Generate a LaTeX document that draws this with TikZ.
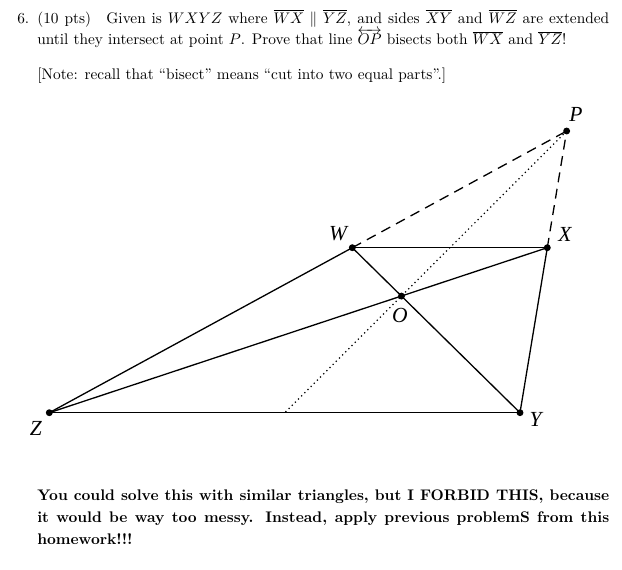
\documentclass[tikz,border=0pt]{standalone}
\usepackage{amsmath}
\usepackage{fontspec}
\newfontfamily\lblfont{Liberation Serif}
\begin{document}
\begin{tikzpicture}[x=0.6513pt,y=-0.6513pt,
  seg/.style={line width=0.85pt},
  ext/.style={line width=0.85pt, dash pattern=on 6.5pt off 4.3pt},
  midline/.style={line width=0.8pt, dash pattern=on 0.8pt off 2.1pt},
  dotpt/.style={circle, fill, inner sep=0pt, minimum size=4.5pt},
  lbl/.style={font=\lblfont\itshape\fontsize{14}{16}\selectfont, inner sep=0pt},
  txt/.style={anchor=base west, inner sep=0pt}]
\useasboundingbox (0,0) rectangle (622,569);
% geometry
\coordinate (Z) at (49.3,412.7);
\coordinate (Y) at (520,412.7);
\coordinate (W) at (352.3,247.7);
\coordinate (X) at (547.3,247.7);
\coordinate (P) at (intersection of Z--W and Y--X);
\coordinate (O) at (intersection of W--Y and Z--X);
\coordinate (M) at (intersection of P--O and Z--Y);
% segments
\draw[seg] (W) -- (X);
\draw[seg] (Z) -- (Y);
\draw[seg] (Z) -- (W);
\draw[seg] (Z) -- (X);
\draw[seg] (W) -- (Y);
\draw[seg] (X) -- (Y);
\draw[ext] (W) -- (P);
\draw[ext] (X) -- (P);
\draw[midline] (P) -- (M);
% points
\node[dotpt] (dP) at (P) {};
\node[dotpt] (dW) at (W) {};
\node[dotpt] (dX) at (X) {};
\node[dotpt] (dO) at (O) {};
\node[dotpt] (dY) at (Y) {};
\node[dotpt] (dZ) at (Z) {};
% labels
\node[lbl] (lP) at (576,114) {P};
\node[lbl] (lW) at (338,234) {W};
\node[lbl] (lX) at (565,234) {X};
\node[lbl] (lO) at (400,315) {O};
\node[lbl] (lY) at (535.5,419.7) {Y};
\node[lbl] (lZ) at (35.8,428.7) {Z};
% text
\node[txt] (num) at (17,23.3) {\fontsize{10}{12}\selectfont 6.};
\node[txt] (prob) at (37,23.3) {\parbox[t]{372.5pt}{\fontsize{10}{14.1}\selectfont (10 pts)\quad Given is $WXYZ$ where $\overline{WX}\parallel\overline{YZ}$, and sides $\overline{XY}$ and $\overline{WZ}$ are extended\linebreak until they intersect at point $P$. Prove that line $\overleftrightarrow{OP}$ bisects both $\overline{WX}$ and $\overline{YZ}$!}};
\node[txt] (note) at (37,79) {\fontsize{10}{12}\selectfont [Note: recall that ``bisect'' means ``cut into two equal parts''.]};
\node[txt] (warn) at (37,500) {\parbox[t]{372.5pt}{\fontsize{10}{14.65}\selectfont\bfseries You could solve this with similar triangles, but I FORBID THIS, because\linebreak it would be way too messy.  Instead, apply previous problemS from this\linebreak homework!!!}};
\end{tikzpicture}
\end{document}
